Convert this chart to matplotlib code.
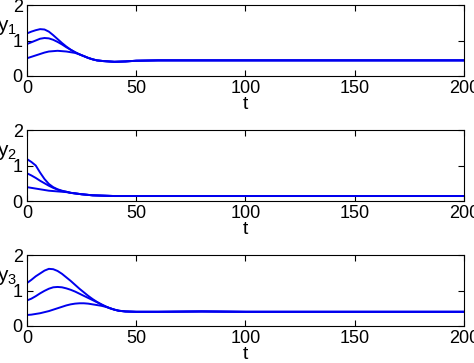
import matplotlib
matplotlib.use("Agg")
import matplotlib.pyplot as plt

plt.rcParams['font.family'] = ['Liberation Sans', 'DejaVu Sans']

t1 = [0, 2, 4, 6, 8, 10, 12, 14, 16, 18, 20, 22, 24, 26, 28, 30, 32, 35, 40, 45, 50, 60, 80, 200]
y1a = [1.20, 1.25, 1.29, 1.32, 1.31, 1.25, 1.15, 1.04, 0.93, 0.83, 0.74, 0.67, 0.61, 0.56, 0.51, 0.47, 0.44, 0.42, 0.40, 0.41, 0.43, 0.44, 0.44, 0.44]
y1b = [0.90, 0.95, 1.00, 1.05, 1.07, 1.06, 1.02, 0.96, 0.89, 0.81, 0.74, 0.67, 0.61, 0.56, 0.51, 0.47, 0.44, 0.42, 0.40, 0.41, 0.43, 0.44, 0.44, 0.44]
y1c = [0.50, 0.54, 0.58, 0.62, 0.66, 0.69, 0.70, 0.71, 0.70, 0.69, 0.67, 0.65, 0.61, 0.56, 0.51, 0.47, 0.44, 0.42, 0.40, 0.41, 0.43, 0.44, 0.44, 0.44]

t2 = [0, 2, 4, 6, 8, 10, 12, 14, 16, 18, 20, 25, 30, 35, 40, 200]
y2a = [1.18, 1.10, 1.00, 0.80, 0.62, 0.48, 0.39, 0.33, 0.29, 0.26, 0.23, 0.19, 0.16, 0.15, 0.14, 0.14]
y2b = [0.78, 0.72, 0.65, 0.57, 0.50, 0.43, 0.37, 0.32, 0.28, 0.26, 0.23, 0.19, 0.16, 0.15, 0.14, 0.14]
y2c = [0.39, 0.37, 0.35, 0.33, 0.31, 0.29, 0.28, 0.27, 0.26, 0.25, 0.23, 0.19, 0.16, 0.15, 0.14, 0.14]

t3 = [0, 2, 4, 6, 8, 10, 12, 14, 16, 18, 20, 22, 24, 26, 28, 30, 32, 34, 36, 38, 40, 42, 45, 50, 60, 80, 100, 200]
y3a = [1.21, 1.30, 1.40, 1.48, 1.56, 1.61, 1.60, 1.55, 1.47, 1.37, 1.27, 1.16, 1.05, 0.95, 0.85, 0.76, 0.68, 0.61, 0.55, 0.50, 0.46, 0.43, 0.41, 0.40, 0.40, 0.41, 0.40, 0.40]
y3b = [0.72, 0.77, 0.84, 0.92, 0.99, 1.05, 1.09, 1.10, 1.09, 1.06, 1.02, 0.97, 0.91, 0.85, 0.79, 0.73, 0.67, 0.61, 0.55, 0.50, 0.46, 0.43, 0.41, 0.40, 0.40, 0.41, 0.40, 0.40]
y3c = [0.31, 0.32, 0.34, 0.36, 0.39, 0.42, 0.46, 0.50, 0.54, 0.58, 0.61, 0.63, 0.64, 0.64, 0.63, 0.61, 0.59, 0.57, 0.54, 0.50, 0.46, 0.43, 0.41, 0.40, 0.40, 0.41, 0.40, 0.40]

xticks = [0, 50, 100, 150, 200]
yticks = [0, 1, 2]
ylabels = ['$\\mathregular{y_1}$', '$\\mathregular{y_2}$', '$\\mathregular{y_3}$']
panels = [(t1, [y1a, y1b, y1c]), (t2, [y2a, y2b, y2c]), (t3, [y3a, y3b, y3c])]

W, H = 474, 363
fig = plt.figure(figsize=(W / 100, H / 100), dpi=100)
tops = [5, 130, 255]
for i, (tt, series) in enumerate(panels):
    top = tops[i]
    ax = fig.add_axes([27 / W, 1 - (top + 71) / H, 437 / W, 71 / H])
    for s in series:
        ax.plot(tt, s, color='#0000ee', lw=1.4)
    ax.set_xlim(0, 200)
    ax.set_ylim(0, 2)
    ax.set_xticks(xticks)
    ax.set_yticks(yticks)
    ax.tick_params(direction='in', top=True, right=True, labelsize=13, length=4, pad=3)
    ax.set_xlabel('t', fontsize=14, labelpad=-1)
    ax.set_ylabel(ylabels[i], rotation=0, fontsize=15)
    ax.yaxis.set_label_coords(-0.045, 0.55)
    for sp in ax.spines.values():
        sp.set_linewidth(0.8)

fig.savefig('out.png', dpi=100)
